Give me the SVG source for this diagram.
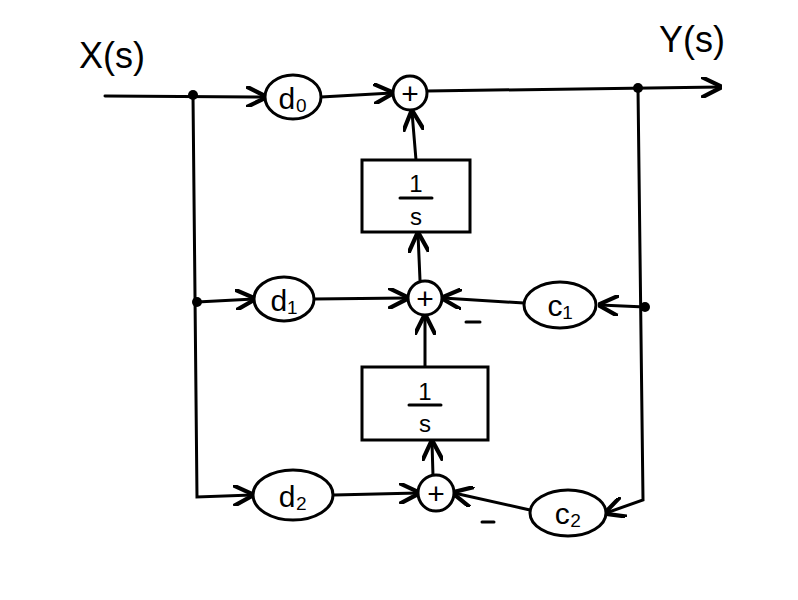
<svg xmlns="http://www.w3.org/2000/svg" width="798" height="600" viewBox="0 0 798 600">
<style>
.s{fill:none;stroke:#000;stroke-width:3;stroke-linecap:round}
.b{fill:#fff;stroke:#000;stroke-width:3}
text{font-family:"Liberation Sans",sans-serif;fill:#000;text-anchor:middle}
</style>
<defs><marker id="a" viewBox="0 0 10 10" refX="9" refY="5" markerWidth="7" markerHeight="7" orient="auto-start-reverse"><path d="M0,0 L10,5 L0,10" fill="none" stroke="#000" stroke-width="2"/></marker></defs>
<rect width="798" height="600" fill="#fff"/>
<text x="112" y="68" font-size="36">X(s)</text>
<text x="692" y="52" font-size="36">Y(s)</text>
<g id="connectors" class="s">
<path d="M105,96 L265,97" marker-end="url(#a)"/>
<path d="M321,97 L392,93" marker-end="url(#a)"/>
<path d="M427,91 L720,87" marker-end="url(#a)"/>
<path d="M193,95 L197,497 L252,495" marker-end="url(#a)"/>
<path d="M638,88 L643,500 L606,513" marker-end="url(#a)"/>
<path d="M197,302 L254,299" marker-end="url(#a)"/>
<path d="M314,299 L407,298" marker-end="url(#a)"/>
<path d="M645,307 L600,305" marker-end="url(#a)"/>
<path d="M524,303 L443,298" marker-end="url(#a)"/>
<path d="M334,495 L418,493" marker-end="url(#a)"/>
<path d="M530,510 L454,493" marker-end="url(#a)"/>
<path d="M416,160 L412,112" marker-end="url(#a)"/>
<path d="M420,280 L418,234" marker-end="url(#a)"/>
<path d="M425,367 L425,316" marker-end="url(#a)"/>
<path d="M433,476 L432,442" marker-end="url(#a)"/>
<path d="M466,322 L480,322"/>
<path d="M482,522 L494,522"/>
</g>
<g fill="#000"><circle cx="193" cy="95" r="5"/><circle cx="638" cy="88" r="5"/><circle cx="197" cy="302" r="5"/><circle cx="645" cy="307" r="5"/></g>
<g id="d0"><ellipse class="b" cx="293" cy="97" rx="28" ry="22"/><text x="293" y="109" font-size="30">d₀</text></g>
<g id="sum1"><circle class="b" cx="410" cy="93" r="17"/><text x="410" y="104" font-size="30">+</text></g>
<g id="int1"><rect class="b" x="362" y="160" width="108" height="72"/><text x="416" y="192" font-size="24">1</text><path class="s" d="M400,198 L432,198"/><text x="416" y="225" font-size="24">s</text></g>
<g id="d1"><ellipse class="b" cx="284" cy="299" rx="30" ry="22"/><text x="284" y="311" font-size="30">d₁</text></g>
<g id="sum2"><circle class="b" cx="425" cy="298" r="17"/><text x="425" y="309" font-size="30">+</text></g>
<g id="c1"><ellipse class="b" cx="560" cy="305" rx="36" ry="23"/><text x="560" y="316" font-size="30">c₁</text></g>
<g id="int2"><rect class="b" x="362" y="367" width="126" height="73"/><text x="425" y="400" font-size="24">1</text><path class="s" d="M409,405 L441,405"/><text x="425" y="432" font-size="24">s</text></g>
<g id="d2"><ellipse class="b" cx="293" cy="495" rx="40" ry="25"/><text x="293" y="507" font-size="30">d₂</text></g>
<g id="sum3"><circle class="b" cx="436" cy="493" r="18"/><text x="436" y="504" font-size="30">+</text></g>
<g id="c2"><ellipse class="b" cx="568" cy="513" rx="38" ry="23"/><text x="568" y="524" font-size="30">c₂</text></g>
</svg>
